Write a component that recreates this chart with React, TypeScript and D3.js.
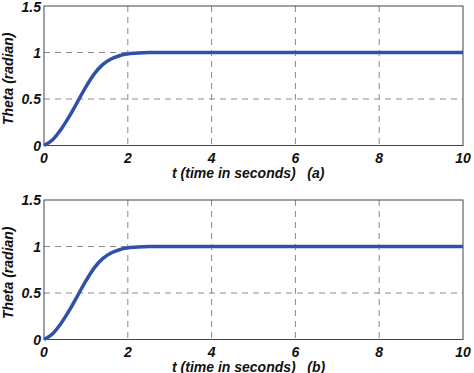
import React from "react";
import * as d3 from "d3";

const timeValues = [0, 0.2, 0.4, 0.6, 0.8, 1.0, 1.2, 1.4, 1.6, 1.8, 2.0, 2.2, 2.5, 3, 4, 5, 6, 7, 8, 9, 10];
const thetaA = [0, 0.06, 0.17, 0.31, 0.47, 0.63, 0.77, 0.87, 0.93, 0.965, 0.985, 0.993, 1.0, 1.0, 1.0, 1.0, 1.0, 1.0, 1.0, 1.0, 1.0];
const thetaB = [0, 0.06, 0.17, 0.31, 0.47, 0.63, 0.77, 0.87, 0.93, 0.965, 0.985, 0.993, 1.0, 1.0, 1.0, 1.0, 1.0, 1.0, 1.0, 1.0, 1.0];
const xTicks = [0, 2, 4, 6, 8, 10];
const yTicks = [0, 0.5, 1, 1.5];
const yTickLabels = ["0", "0.5", "1", "1.5"];
const panelLabels = ["(a)", "(b)"];

const W = 474;
const H = 373;
const left = 44;
const right = 463;
const panels = [
  { top: 6, bottom: 145.5, values: thetaA, label: panelLabels[0] },
  { top: 200, bottom: 339.5, values: thetaB, label: panelLabels[1] },
];
const font = "'Liberation Sans', Arial, sans-serif";

function Panel({ top, bottom, values, label }: { top: number; bottom: number; values: number[]; label: string }) {
  const x = d3.scaleLinear().domain([0, 10]).range([left, right]);
  const y = d3.scaleLinear().domain([0, 1.5]).range([bottom, top]);
  const line = d3
    .line<number>()
    .x((_, i) => x(timeValues[i]))
    .y((d) => y(d))
    .curve(d3.curveMonotoneX);
  const textStyle = { fontFamily: font, fontWeight: "bold" as const, fontStyle: "italic" as const };
  return (
    <g>
      {xTicks.slice(1, -1).map((t) => (
        <line key={"gx" + t} x1={x(t)} x2={x(t)} y1={top} y2={bottom} stroke="#888" strokeWidth={1} strokeDasharray="6,5" />
      ))}
      {yTicks.slice(1, -1).map((t) => (
        <line key={"gy" + t} x1={left} x2={right} y1={y(t)} y2={y(t)} stroke="#888" strokeWidth={1} strokeDasharray="6,5" />
      ))}
      <rect x={left} y={top} width={right - left} height={bottom - top} fill="none" stroke="#444" strokeWidth={1} />
      <path d={line(values) || ""} fill="none" stroke="#3050aa" strokeWidth={3.5} strokeLinejoin="round" />
      {yTicks.map((t, i) => (
        <text key={"yt" + t} x={left - 3} y={Math.max(y(t) + 5, 12)} textAnchor="end" fontSize={14} {...textStyle} fill="#111">
          {yTickLabels[i]}
        </text>
      ))}
      {xTicks.map((t) => (
        <text key={"xt" + t} x={x(t)} y={bottom + 17} textAnchor="middle" fontSize={14} {...textStyle} fill="#111">
          {t}
        </text>
      ))}
      <text x={172} y={bottom + 32} fontSize={14} {...textStyle} fill="#111" xmlSpace="preserve">
        {"t (time in seconds)   " + label}
      </text>
      <text
        transform={`translate(13, ${(top + bottom) / 2 + 3}) rotate(-90)`}
        textAnchor="middle"
        fontSize={14}
        {...textStyle}
        fill="#111"
      >
        Theta (radian)
      </text>
    </g>
  );
}

export default function App() {
  return (
    <svg width={W} height={H} style={{ position: "absolute", left: 0, top: 0, background: "#fff" }}>
      {panels.map((p, i) => (
        <Panel key={i} {...p} />
      ))}
    </svg>
  );
}
